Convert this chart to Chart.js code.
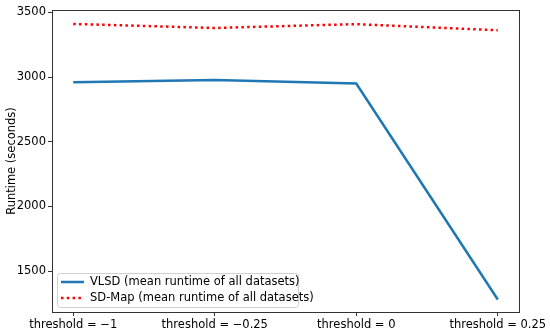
<!DOCTYPE html>
<html>
<head>
<meta charset="utf-8">
<script src="https://cdn.jsdelivr.net/npm/chart.js@4.4.1/dist/chart.umd.min.js"></script>
<style>
  html, body { margin: 0; padding: 0; background: #fff; }
  #wrap { width: 550px; height: 335px; }
</style>
</head>
<body>
<div id="wrap"><canvas id="runtimeChart" width="550" height="335"></canvas></div>
<script>
'use strict';

const categories = ['threshold = \u22121', 'threshold = \u22120.25', 'threshold = 0', 'threshold = 0.25'];
const vlsdRuntime = [2960, 2978, 2950, 1280];
const sdMapRuntime = [3411, 3380, 3410, 3362];
const yTicks = [1500, 2000, 2500, 3000, 3500];

const FONT = 'DejaVu Sans';

// matplotlib-ish frame and legend inside the plot
const framePlugin = {
    id: 'frame',
    afterDraw(chart) {
        const ctx = chart.ctx;
        const a = chart.chartArea;
        ctx.save();
        ctx.strokeStyle = '#333';
        ctx.lineWidth = 1;
        ctx.strokeRect(Math.round(a.left) + 0.5, Math.round(a.top) + 0.5,
            Math.round(a.right - a.left), Math.round(a.bottom - a.top));

        // legend box, lower left
        const x0 = a.left + 5, y0 = a.bottom - 39, w = 241, h = 34;
        ctx.fillStyle = 'rgba(255,255,255,0.8)';
        ctx.strokeStyle = '#d0d0d0';
        ctx.beginPath();
        ctx.roundRect(x0 + 0.5, y0 + 0.5, w, h, 3);
        ctx.fill();
        ctx.stroke();

        ctx.font = '11.5px "' + FONT + '"';
        ctx.textBaseline = 'middle';
        chart.data.datasets.forEach((ds, i) => {
            const yy = y0 + 9 + i * 16;
            ctx.strokeStyle = ds.borderColor;
            ctx.lineWidth = ds.borderWidth;
            ctx.setLineDash(ds.borderDash || []);
            ctx.beginPath();
            ctx.moveTo(x0 + 4, yy);
            ctx.lineTo(x0 + 27, yy);
            ctx.stroke();
            ctx.setLineDash([]);
            ctx.fillStyle = '#000';
            ctx.fillText(ds.label, x0 + 33, yy);
        });
        ctx.restore();
    }
};

new Chart('runtimeChart', {
    type: 'line',
    data: {
        datasets: [{
            label: 'VLSD (mean runtime of all datasets)',
            data: vlsdRuntime.map((v, i) => ({x: i, y: v})),
            borderColor: '#1f77b4',
            borderWidth: 2.5,
            pointRadius: 0,
            tension: 0
        }, {
            label: 'SD-Map (mean runtime of all datasets)',
            data: sdMapRuntime.map((v, i) => ({x: i, y: v})),
            borderColor: '#ff0000',
            borderWidth: 2.5,
            borderDash: [2.5, 3.3],
            pointRadius: 0,
            tension: 0
        }]
    },
    options: {
        responsive: false,
        animation: false,
        layout: { padding: { top: 10, right: 31, left: 0, bottom: 0 } },
        plugins: {
            legend: { display: false },
            tooltip: { enabled: false }
        },
        scales: {
            x: {
                type: 'linear',
                min: -0.15,
                max: 3.15,
                afterBuildTicks: (scale) => {
                    scale.ticks = categories.map((c, i) => ({value: i}));
                },
                afterFit: (scale) => { scale.height = 23; },
                ticks: {
                    autoSkip: false,
                    maxRotation: 0,
                    padding: 2,
                    color: '#000',
                    font: { family: FONT, size: 11.5 },
                    callback: (value) => categories[value]
                },
                grid: {
                    display: true,
                    drawOnChartArea: false,
                    drawTicks: true,
                    tickLength: 4,
                    color: '#333'
                },
                border: { display: false }
            },
            y: {
                min: 1183,
                max: 3519,
                afterBuildTicks: (scale) => {
                    scale.ticks = yTicks.map(v => ({value: v}));
                },
                afterFit: (scale) => { scale.width = 52; },
                title: {
                    display: true,
                    text: 'Runtime (seconds)',
                    color: '#000',
                    font: { family: FONT, size: 11.5 },
                    padding: { top: 5, bottom: 0 }
                },
                ticks: {
                    padding: 2,
                    color: '#000',
                    font: { family: FONT, size: 11.5 },
                    callback: (value) => String(value)
                },
                grid: {
                    display: true,
                    drawOnChartArea: false,
                    drawTicks: true,
                    tickLength: 4,
                    color: '#333'
                },
                border: { display: false }
            }
        }
    },
    plugins: [framePlugin]
});
</script>
</body>
</html>
